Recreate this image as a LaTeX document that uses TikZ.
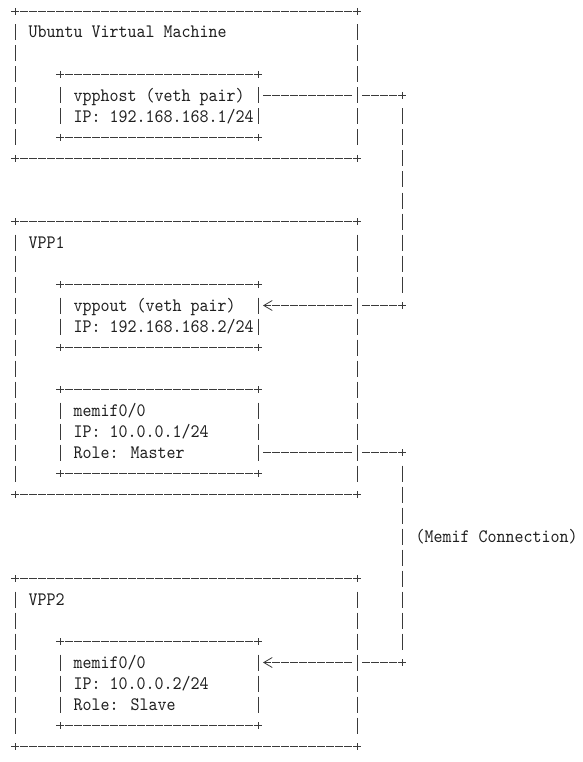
\documentclass[tikz,border=0pt]{standalone}
\usepackage{fontspec}
\usetikzlibrary{calc,arrows.meta}
\newfontfamily\asciifont[FakeStretch=0.9023]{lmmono10-regular.otf}
\definecolor{ink}{HTML}{1E1E1E}
\definecolor{rulec}{HTML}{3A3A3A}
\tikzset{
  hdash/.style={draw=rulec, line width=0.8pt, dash pattern=on 7.5pt off 1.5pt},
  vdash/.style={draw=rulec, line width=0.8pt, dash pattern=on 16pt off 5pt},
  tick/.style={draw=rulec, line width=0.8pt},
  lbl/.style={anchor=base west, inner sep=0pt, outer sep=0pt, text=ink,
              font=\asciifont\fontsize{19pt}{21pt}\selectfont},
  frame/.style={draw=none, inner sep=0pt, outer sep=0pt, rectangle},
  tipl/.style={-{Straight Barb[length=8.5pt,width=10pt,line width=0.8pt]}},
}
% name, col0, row0, col1, row1
\newcommand\asciibox[5]{%
  \node[frame, minimum width={9pt*(#4-#2)}, minimum height={21pt*(#5-#3)}] (#1) at ({(#2+#4)/2},{(#3+#5)/2}) {};
  \draw[hdash] ($(#1.north west)+(-3.75pt,0)$) -- ($(#1.north east)+(3.75pt,0)$);
  \draw[hdash] ($(#1.south west)+(-3.75pt,0)$) -- ($(#1.south east)+(3.75pt,0)$);
  \draw[vdash] ($(#1.north west)+(0,-13pt)$) -- ($(#1.south west)+(0,13pt)$);
  \draw[vdash] ($(#1.north east)+(0,-13pt)$) -- ($(#1.south east)+(0,13pt)$);
  \foreach \cornr in {north west,north east,south west,south east}
    \draw[tick] ($(#1.\cornr)+(0,3.5pt)$) -- ($(#1.\cornr)+(0,-3.5pt)$);
}
% plus mark at a named coordinate
\newcommand\plusmark[1]{%
  \draw[tick] ($(#1)+(0,3.5pt)$) -- ($(#1)+(0,-3.5pt)$);
}
\begin{document}
\begin{tikzpicture}[x=9pt,y=-21pt]
\useasboundingbox (-15pt,11.5pt) rectangle (567pt,-750.5pt);

% outer boxes
\asciibox{ubuntu}{0}{0}{38}{7}
\asciibox{vpp1}{0}{10}{38}{23}
\asciibox{vpp2}{0}{27}{38}{35}
% inner boxes
\asciibox{vpphost}{5}{3}{27}{6}
\asciibox{vppout}{5}{13}{27}{16}
\asciibox{memifa}{5}{18}{27}{22}
\asciibox{memifb}{5}{30}{27}{34}

% texts
\node[lbl] (t-ubuntu) at (1.5,1.262) {Ubuntu Virtual Machine};
\node[lbl] (t-vpphost1) at (6.5,4.262) {vpphost (veth pair)};
\node[lbl] (t-vpphost2) at (6.5,5.262) {IP: 192.168.168.1/24};
\node[lbl] (t-vpp1) at (1.5,11.262) {VPP1};
\node[lbl] (t-vppout1) at (6.5,14.262) {vppout (veth pair)};
\node[lbl] (t-vppout2) at (6.5,15.262) {IP: 192.168.168.2/24};
\node[lbl] (t-memifa1) at (6.5,19.262) {memif0/0};
\node[lbl] (t-memifa2) at (6.5,20.262) {IP: 10.0.0.1/24};
\node[lbl] (t-memifa3) at (6.5,21.262) {Role: Master};
\node[lbl] (t-vpp2) at (1.5,28.262) {VPP2};
\node[lbl] (t-memifb1) at (6.5,31.262) {memif0/0};
\node[lbl] (t-memifb2) at (6.5,32.262) {IP: 10.0.0.2/24};
\node[lbl] (t-memifb3) at (6.5,33.262) {Role: Slave};
\node[lbl] (t-memifconn) at (44.5,25.262) {(Memif Connection)};

% connector 1: vpphost -> vppout
\coordinate (j1) at (43,4);
\coordinate (k1) at (43,14);
\draw[hdash] ($(vpphost.east |- j1)+(5.25pt,0)$) -- ($(ubuntu.east |- j1)+(-5.25pt,0)$);
\draw[hdash] ($(ubuntu.east |- j1)+(5.25pt,0)$) -- ($(j1)+(3.5pt,0)$);
\plusmark{j1}
\draw[vdash] ($(j1)+(0,-13pt)$) -- ($(k1)+(0,13pt)$);
\plusmark{k1}
\draw[hdash] ($(vpp1.east |- k1)+(5.25pt,0)$) -- ($(k1)+(3.5pt,0)$);
\draw[hdash,tipl] ($(vpp1.east |- k1)+(-5.25pt,0)$) -- ($(vppout.east |- k1)+(5pt,0)$);

% connector 2: memif0/0 (VPP1) -> memif0/0 (VPP2)
\coordinate (j2) at (43,21);
\coordinate (k2) at (43,31);
\draw[hdash] ($(memifa.east |- j2)+(5.25pt,0)$) -- ($(vpp1.east |- j2)+(-5.25pt,0)$);
\draw[hdash] ($(vpp1.east |- j2)+(5.25pt,0)$) -- ($(j2)+(3.5pt,0)$);
\plusmark{j2}
\draw[vdash] ($(j2)+(0,-13pt)$) -- ($(k2)+(0,13pt)$);
\plusmark{k2}
\draw[hdash] ($(vpp2.east |- k2)+(5.25pt,0)$) -- ($(k2)+(3.5pt,0)$);
\draw[hdash,tipl] ($(vpp2.east |- k2)+(-5.25pt,0)$) -- ($(memifb.east |- k2)+(5pt,0)$);
\end{tikzpicture}
\end{document}
